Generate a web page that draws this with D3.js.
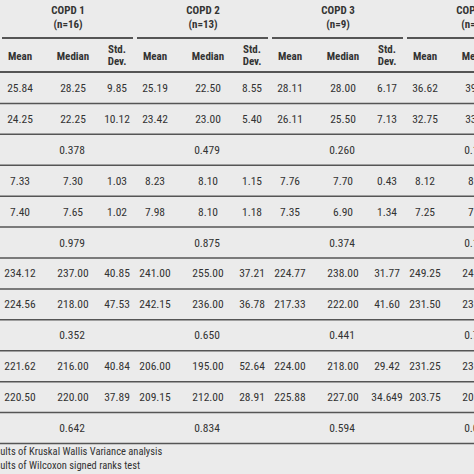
<!DOCTYPE html>
<html><head><meta charset="utf-8">
<script src="https://cdn.jsdelivr.net/npm/d3@7"></script>
<style>body{margin:0;background:#ebebeb;overflow:hidden}text{font-family:"Liberation Sans Narrow","Roboto Condensed","Liberation Sans",sans-serif;fill:#333}</style>
</head><body><svg id="c" width="474" height="474"></svg>
<script>
const groups = ["COPD 1", "COPD 2", "COPD 3", "COPD 4"];
const groupN = ["(n=16)", "(n=13)", "(n=9)", "(n=8)"];
const subHeads = ["Mean", "Median", "Std.\nDev."];
// each row: either 12 values (mean/median/sd x4) or 4 p-values
const rows = [
  ["25.84","28.25","9.85","25.19","22.50","8.55","28.11","28.00","6.17","36.62","39.50","9.21"],
  ["24.25","22.25","10.12","23.42","23.00","5.40","26.11","25.50","7.13","32.75","33.00","8.14"],
  ["0.378","0.479","0.260","0.123"],
  ["7.33","7.30","1.03","8.23","8.10","1.15","7.76","7.70","0.43","8.12","8.20","0.61"],
  ["7.40","7.65","1.02","7.98","8.10","1.18","7.35","6.90","1.34","7.25","7.45","0.92"],
  ["0.979","0.875","0.374","0.161"],
  ["234.12","237.00","40.85","241.00","255.00","37.21","224.77","238.00","31.77","249.25","249.50","30.12"],
  ["224.56","218.00","47.53","242.15","236.00","36.78","217.33","222.00","41.60","231.50","236.00","28.40"],
  ["0.352","0.650","0.441","0.735"],
  ["221.62","216.00","40.84","206.00","195.00","52.64","224.00","218.00","29.42","231.25","238.00","35.10"],
  ["220.50","220.00","37.89","209.15","212.00","28.91","225.88","227.00","34.649","203.75","203.00","26.30"],
  ["0.642","0.834","0.594","0.025"]
];
const footnotes = ["Results of Kruskal Wallis Variance analysis", "Results of Wilcoxon signed ranks test"];

const svg = d3.select("#c");
// column centres: groups are 3 columns of ~45px, widths tuned to the reference
const colX = c => 20 + Math.floor(c / 3) * 135 + [0, 53, 97][c % 3];
const rowY = d3.scaleLinear().domain([0, 11]).range([88, 428]);
const groupX = g => colX(g * 3 + 1) - 5;
const rowH = rowY(1) - rowY(0);

const line = (x1, x2, y, w) => svg.append("line").attr("x1", x1).attr("x2", x2).attr("y1", y).attr("y2", y)
  .attr("stroke", "#555").attr("stroke-width", w);
groups.forEach((g, i) => line(i * 135 + 2, i * 135 + 133, 38, 2));
line(0, 474, 72, 2);
rows.forEach((r, i) => line(0, 474, rowY(i) + rowH / 2, 1.5));

groups.forEach((g, i) => {
  svg.append("text").attr("x", groupX(i)).attr("y", 14).attr("text-anchor", "middle")
    .attr("font-size", 11).attr("font-weight", "bold").text(g);
  svg.append("text").attr("x", groupX(i)).attr("y", 28).attr("text-anchor", "middle")
    .attr("font-size", 11).attr("font-weight", "bold").text(groupN[i]);
});
d3.range(12).forEach(c => {
  const parts = subHeads[c % 3].split("\n");
  const t = svg.append("text").attr("x", colX(c)).attr("text-anchor", "middle")
    .attr("font-size", 11).attr("font-weight", "bold");
  if (parts.length === 1) t.attr("y", 60).text(parts[0]);
  else parts.forEach((p, k) => t.append("tspan").attr("x", colX(c)).attr("y", 53 + k * 12).text(p));
});
rows.forEach((r, i) => {
  r.forEach((v, j) => {
    const x = r.length === 4 ? colX(j * 3 + 1) - 1 : colX(j);
    svg.append("text").attr("x", x).attr("y", rowY(i) + 4).attr("text-anchor", "middle")
      .attr("font-size", 11.5).text(v);
  });
});
footnotes.forEach((f, i) => svg.append("text").attr("x", -15).attr("y", 455 + i * 14)
  .attr("font-size", 10.5).text(f));
</script></body></html>
